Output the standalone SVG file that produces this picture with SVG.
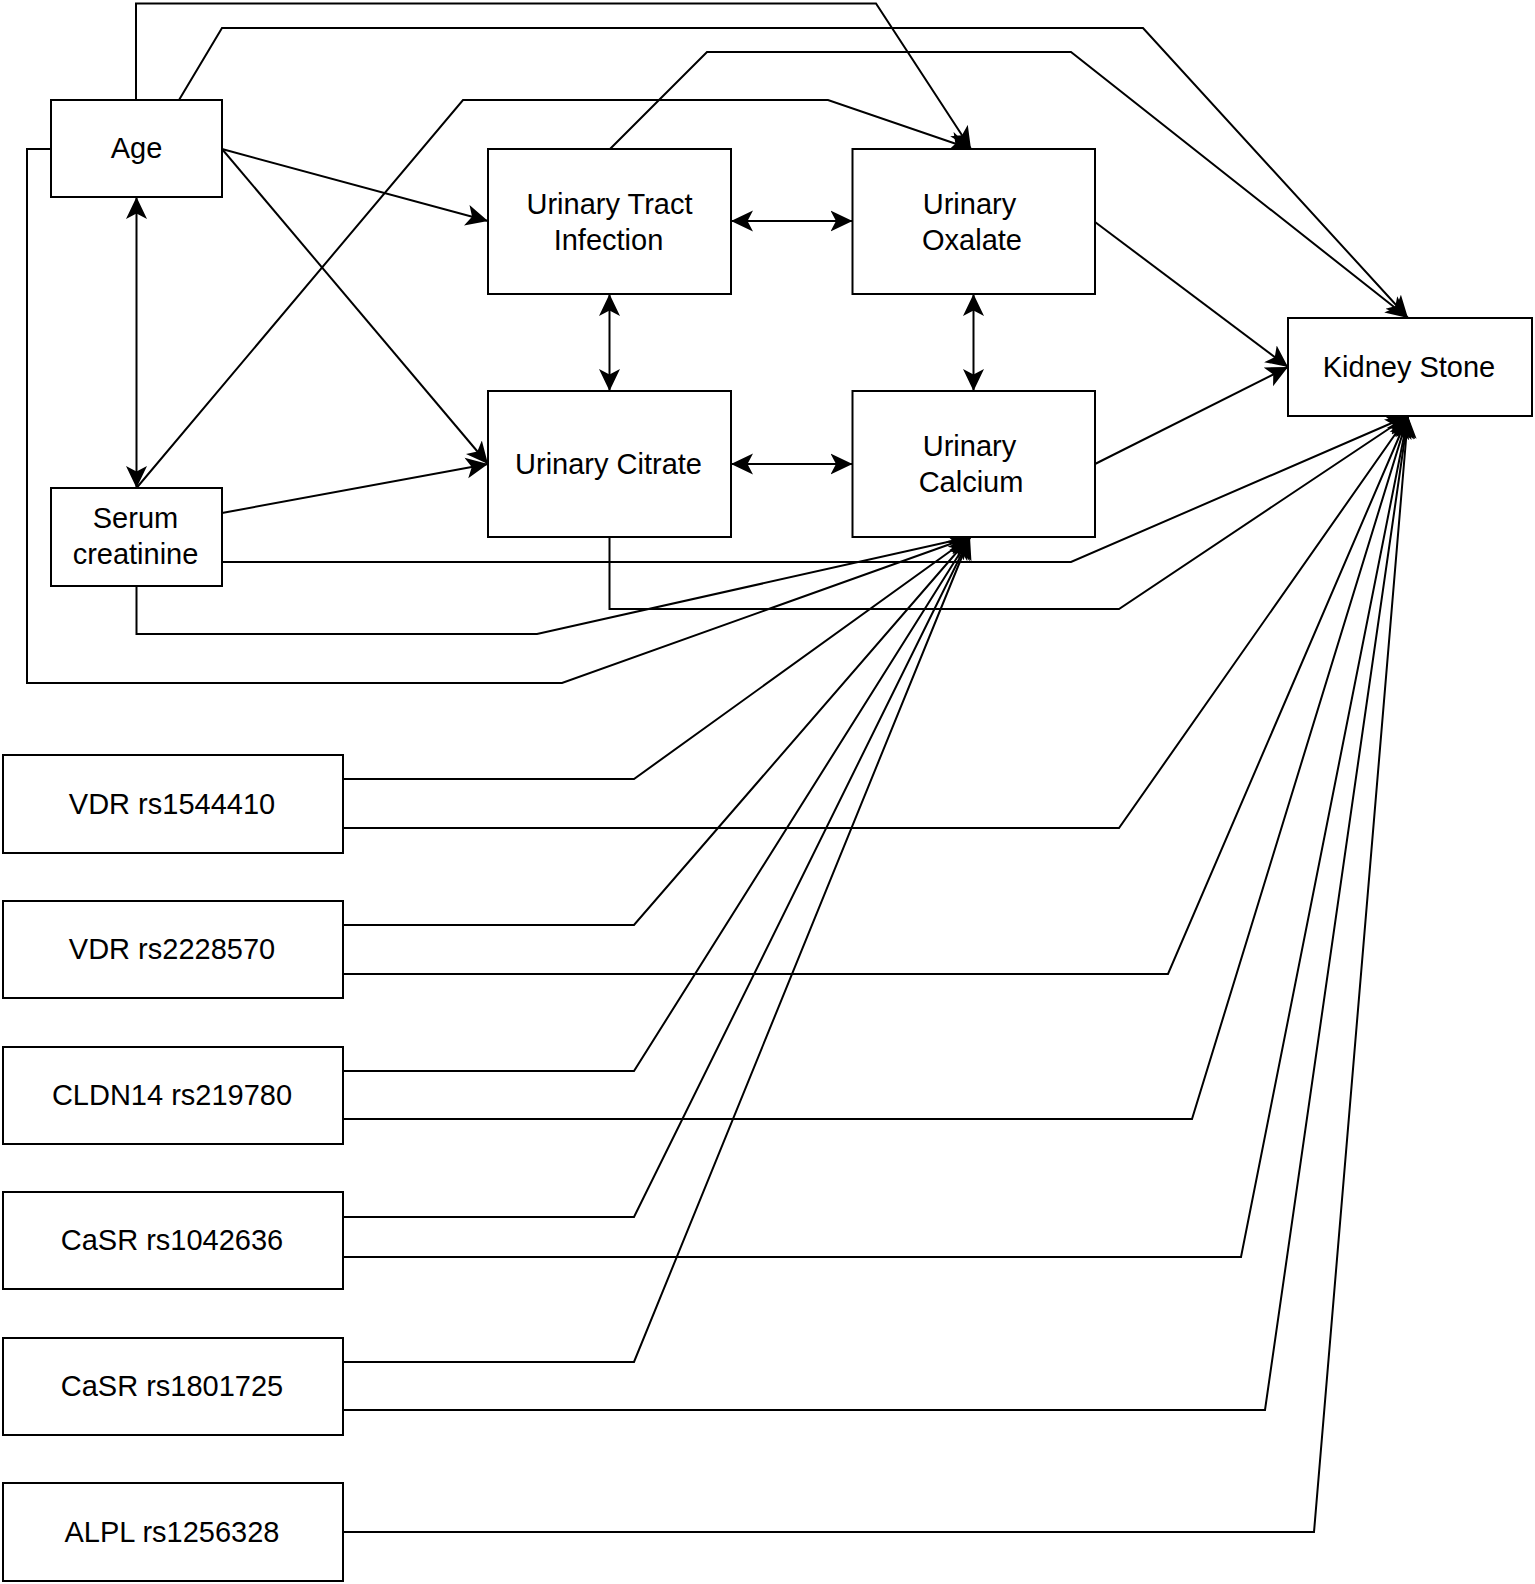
<svg xmlns="http://www.w3.org/2000/svg" width="1535" height="1584" viewBox="0 0 1535 1584">
<style>
.box{fill:#ffffff;stroke:#000000;stroke-width:2}
.lbl{font-family:"Liberation Sans",Arial,Helvetica,sans-serif;font-size:29px;fill:#000000;text-anchor:middle}
.c{fill:none;stroke:#000000;stroke-width:2;stroke-linejoin:miter}
.a{marker-end:url(#ah)}
.b{marker-start:url(#ah);marker-end:url(#ah)}
</style>
<defs>
<marker id="ah" viewBox="0 0 22 22" refX="22" refY="11" markerWidth="22" markerHeight="22" markerUnits="userSpaceOnUse" orient="auto-start-reverse">
<path d="M22,11 L0,0.5 L5.5,11 L0,21.5 Z" fill="#000000" stroke="none"/>
</marker>
</defs>
<rect width="1535" height="1584" fill="#ffffff"/>
<g id="connectors">
<polyline class="c a" points="136,100 136,3.5 876,3.5 971,149"/>
<polyline class="c a" points="179,100 222,28 1143,28 1408,318"/>
<polyline class="c a" points="610,149 707,52 1071,52 1408,318"/>
<polyline class="c a" points="136.5,488 463,100 828,100 971,149"/>
<polyline class="c a" points="222,149 488,221"/>
<polyline class="c a" points="222,149 488,464"/>
<polyline class="c a" points="222,513 488,464"/>
<polyline class="c b" points="136.5,197 136.5,488"/>
<polyline class="c b" points="731,221 852.5,221"/>
<polyline class="c b" points="609.5,294 609.5,391"/>
<polyline class="c b" points="973.5,294 973.5,391"/>
<polyline class="c b" points="731,464 852.5,464"/>
<polyline class="c a" points="1095,222 1288,367"/>
<polyline class="c a" points="1095,464 1288,367"/>
<polyline class="c a" points="222,562 1071,562 1408,416"/>
<polyline class="c a" points="136.5,586 136.5,634 537,634 970,537"/>
<polyline class="c a" points="51,149 27,149 27,683 562,683 970,537"/>
<polyline class="c a" points="609.5,537 609.5,609 1119,609 1408,416"/>
<polyline class="c a" points="343,779 634,779 970,537"/>
<polyline class="c a" points="343,828 1119,828 1408,416"/>
<polyline class="c a" points="343,925 634,925 970,537"/>
<polyline class="c a" points="343,974 1168,974 1408,416"/>
<polyline class="c a" points="343,1071 634,1071 970,537"/>
<polyline class="c a" points="343,1119 1192,1119 1408,416"/>
<polyline class="c a" points="343,1217 634,1217 970,537"/>
<polyline class="c a" points="343,1257 1241,1257 1408,416"/>
<polyline class="c a" points="343,1362 634,1362 970,537"/>
<polyline class="c a" points="343,1410 1265,1410 1408,416"/>
<polyline class="c a" points="343,1532 1314,1532 1408,416"/>
</g>
<g id="age"><rect class="box" x="51" y="100" width="171" height="97"/><text class="lbl" x="136.5" y="158">Age</text></g>
<g id="serum"><rect class="box" x="51" y="488" width="171" height="98"/><text class="lbl" x="135.5" y="528">Serum</text><text class="lbl" x="135.5" y="564">creatinine</text></g>
<g id="uti"><rect class="box" x="488" y="149" width="243" height="145"/><text class="lbl" x="609.5" y="213.5">Urinary Tract</text><text class="lbl" x="608.5" y="249.5">Infection</text></g>
<g id="oxalate"><rect class="box" x="852.5" y="149" width="242.5" height="145"/><text class="lbl" x="969.5" y="213.5">Urinary</text><text class="lbl" x="972" y="249.5">Oxalate</text></g>
<g id="citrate"><rect class="box" x="488" y="391" width="243" height="146"/><text class="lbl" x="608.5" y="473.5">Urinary Citrate</text></g>
<g id="calcium"><rect class="box" x="852.5" y="391" width="242.5" height="146"/><text class="lbl" x="969.5" y="456">Urinary</text><text class="lbl" x="971" y="492">Calcium</text></g>
<g id="kidney"><rect class="box" x="1288" y="318" width="244" height="98"/><text class="lbl" x="1409" y="377">Kidney Stone</text></g>
<g id="vdr1544410"><rect class="box" x="3" y="755" width="340" height="98"/><text class="lbl" x="172" y="813.5">VDR rs1544410</text></g>
<g id="vdr2228570"><rect class="box" x="3" y="901" width="340" height="97"/><text class="lbl" x="172" y="959">VDR rs2228570</text></g>
<g id="cldn14"><rect class="box" x="3" y="1047" width="340" height="97"/><text class="lbl" x="172" y="1105">CLDN14 rs219780</text></g>
<g id="casr1042636"><rect class="box" x="3" y="1192" width="340" height="97"/><text class="lbl" x="172" y="1250">CaSR rs1042636</text></g>
<g id="casr1801725"><rect class="box" x="3" y="1338" width="340" height="97"/><text class="lbl" x="172" y="1396">CaSR rs1801725</text></g>
<g id="alpl"><rect class="box" x="3" y="1483" width="340" height="98"/><text class="lbl" x="172" y="1541.5">ALPL rs1256328</text></g>
</svg>
